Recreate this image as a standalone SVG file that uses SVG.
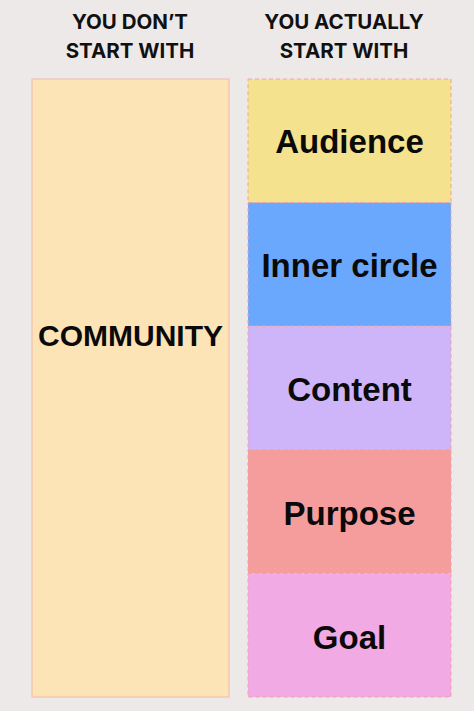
<svg xmlns="http://www.w3.org/2000/svg" width="474" height="711" viewBox="0 0 474 711">
<style>
.hd{font-family:Inter,"Liberation Sans",sans-serif;font-weight:700;font-size:20.5px;fill:#111;text-anchor:middle}
.lb{font-family:"Liberation Sans",Arial,sans-serif;font-weight:700;font-size:33px;fill:#0a0a0a;text-anchor:middle;dominant-baseline:central}
.blk{stroke:#F2A3A3;stroke-width:1;stroke-dasharray:4 3}
</style>
<rect width="474" height="711" fill="#EDE9E9"/>
<g id="headers">
<text class="hd" x="130" y="29">YOU DON’T</text>
<text class="hd" x="130" y="58">START WITH</text>
<text class="hd" x="344" y="29">YOU ACTUALLY</text>
<text class="hd" x="344" y="58">START WITH</text>
</g>
<g id="community">
<rect x="32" y="79" width="197" height="618" fill="#FDE4B6" stroke="#F2B8AC" stroke-width="1"/>
<text class="lb" x="130.5" y="335" style="font-size:30px">COMMUNITY</text>
</g>
<g id="audience">
<rect class="blk" x="248" y="79" width="203" height="123.6" fill="#F5E28E"/>
<text class="lb" x="349.5" y="141">Audience</text>
</g>
<g id="inner-circle">
<rect class="blk" x="248" y="202.6" width="203" height="123.6" fill="#69A8FC"/>
<text class="lb" x="349.5" y="265">Inner circle</text>
</g>
<g id="content">
<rect class="blk" x="248" y="326.2" width="203" height="123.6" fill="#CEB5FA"/>
<text class="lb" x="349.5" y="389">Content</text>
</g>
<g id="purpose">
<rect class="blk" x="248" y="449.8" width="203" height="123.6" fill="#F59C9C"/>
<text class="lb" x="349.5" y="513">Purpose</text>
</g>
<g id="goal">
<rect class="blk" x="248" y="573.4" width="203" height="123.6" fill="#F2AAE4"/>
<text class="lb" x="349.5" y="637">Goal</text>
</g>
</svg>
